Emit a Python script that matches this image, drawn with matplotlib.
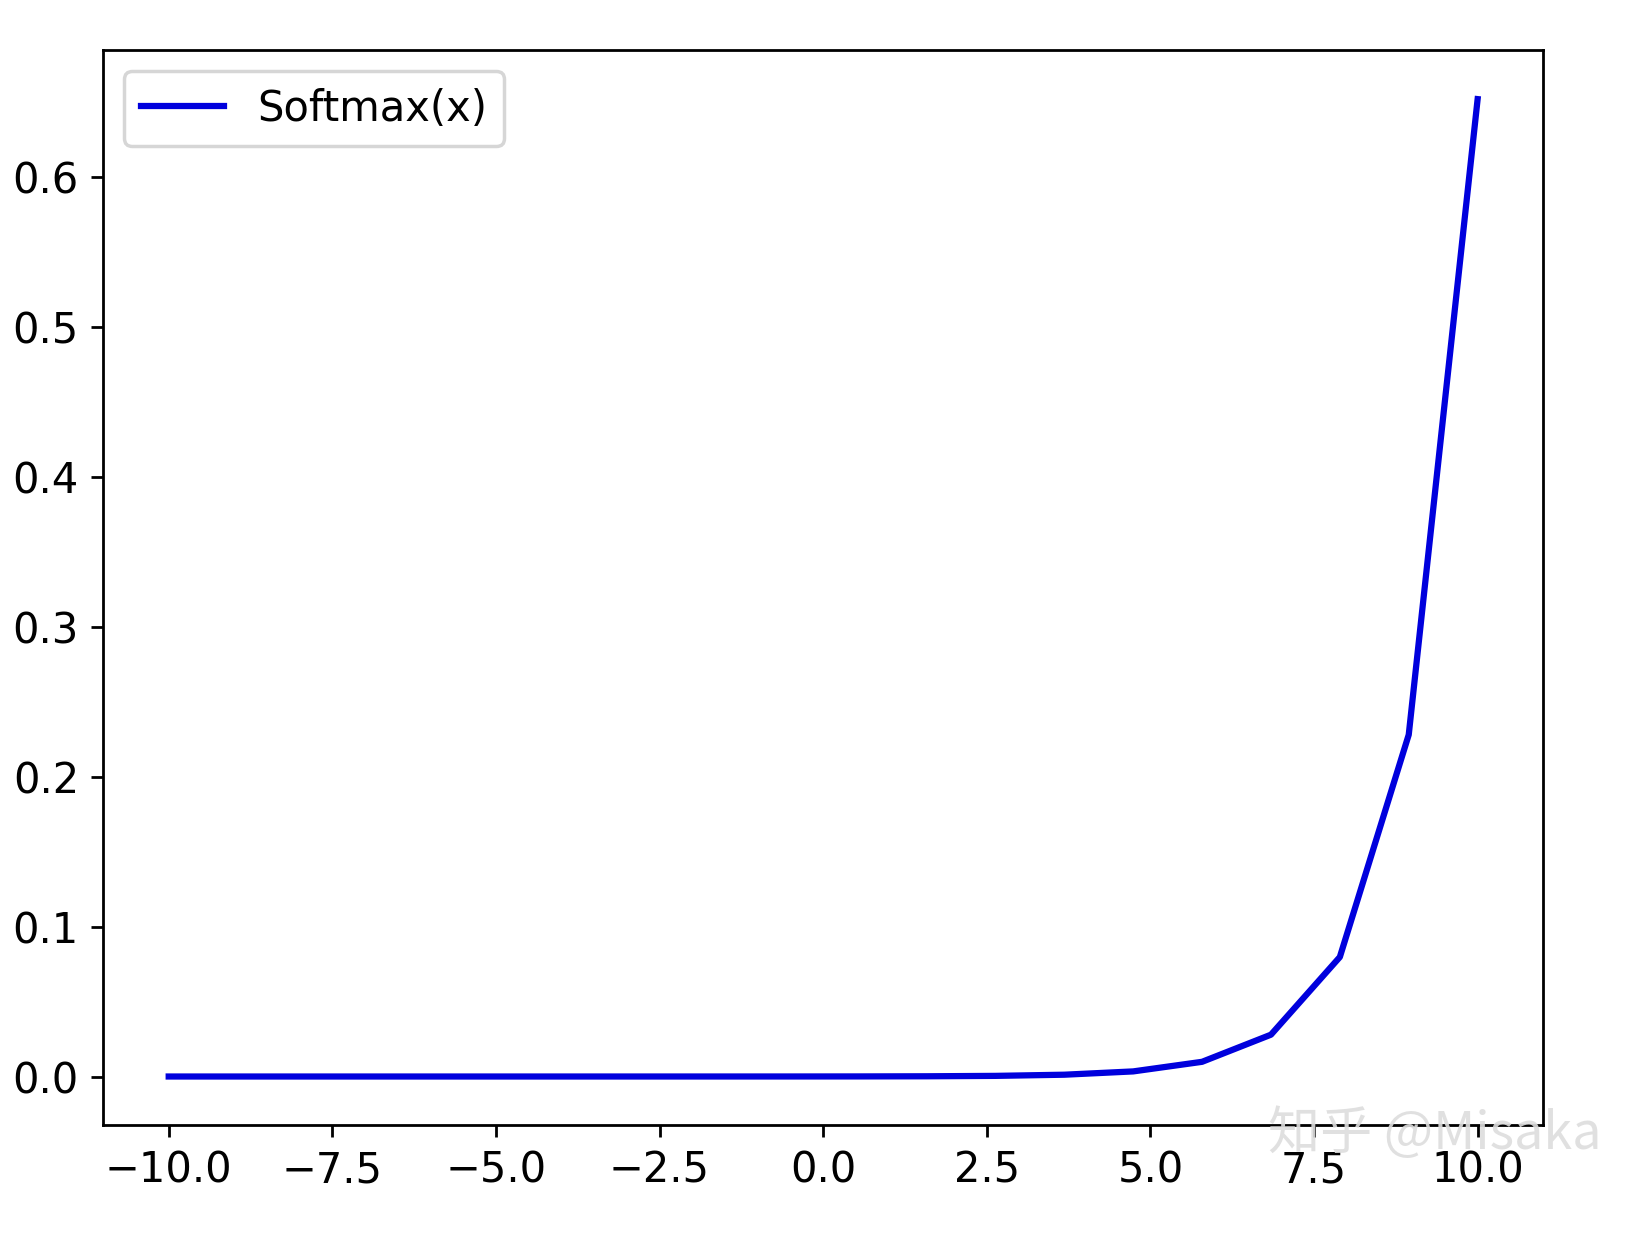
import matplotlib
matplotlib.use("Agg")
import matplotlib.pyplot as plt
import numpy as np

x = np.linspace(-10, 10, 20)
y = [0.0, 0.0, 0.0, 0.0, 0.0, 0.0, 0.0, 0.000002, 0.000006, 0.000018,
     0.000052, 0.00015, 0.00042, 0.0012, 0.0034, 0.0098, 0.0279, 0.0797, 0.228, 0.652]

plt.rcParams['font.family'] = ['DejaVu Sans']
fig = plt.figure(figsize=(6.504, 5.024), dpi=250)
ax = fig.add_axes([0.0635, 0.104, 0.8855, 0.856])
ax.plot(x, y, color='#0000dd', lw=1.8, label='Softmax(x)')
ax.legend(loc='upper left', fontsize=12, handlelength=2.0)
ax.set_xticks(np.arange(-10, 10.1, 2.5))
ax.set_yticks([0, 0.1, 0.2, 0.3, 0.4, 0.5, 0.6])
ax.tick_params(labelsize=12)
fig.text(0.78, 0.085, '知乎 @Misaka', fontsize=15, color='#dddddd', alpha=0.9,
         family=['Noto Sans CJK SC', 'DejaVu Sans'])
fig.savefig('out.png', dpi=250)
